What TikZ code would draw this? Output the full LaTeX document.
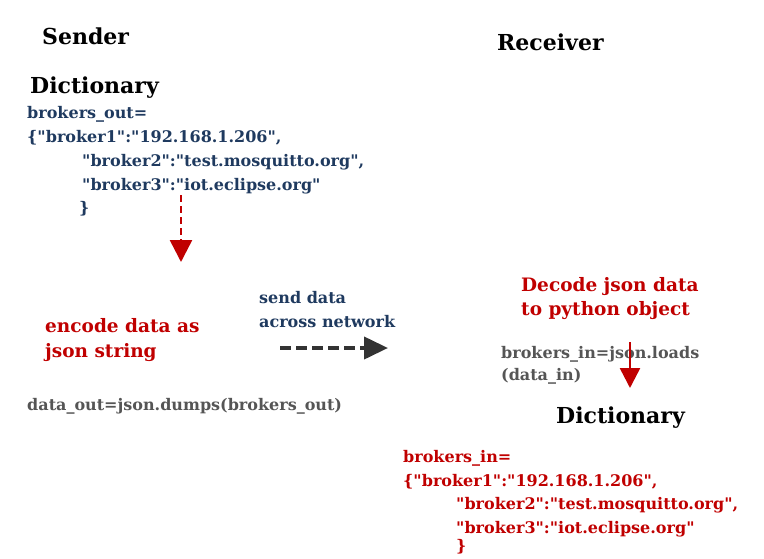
\documentclass[tikz,border=0pt]{standalone}
\usepackage{fontspec}
\setmainfont[Ligatures=TeXOff]{DejaVu Serif}
\usetikzlibrary{arrows.meta}
\definecolor{navy}{HTML}{1F3A5F}
\definecolor{deepred}{HTML}{C00000}
\definecolor{codegray}{HTML}{555555}
\begin{document}
\begin{tikzpicture}
[x=1pt, y=-1pt, font=\bfseries,
head/.style={anchor=west, inner sep=0pt, font=\bfseries\fontsize{22}{24}\selectfont},
code/.style={anchor=west, inner sep=0pt, font=\bfseries\fontsize{16}{18}\selectfont},
note/.style={anchor=west, inner sep=0pt, text=deepred, font=\bfseries\fontsize{18.5}{22}\selectfont}]

\useasboundingbox (0,0) rectangle (764,558);

% sender side
\node[head] (sender) at (42,36) {Sender};
\node[head] (dictout) at (30,88) {Dictionary};
\node[code, text=navy] (out0) at (27,114) {brokers\_out=};
\node[code, text=navy] (out1) at (27,138) {\{"broker1":"192.168.1.206",};
\node[code, text=navy] (out2) at (82,162) {"broker2":"test.mosquitto.org",};
\node[code, text=navy] (out3) at (82,186) {"broker3":"iot.eclipse.org"};
\node[code, text=navy] (out4) at (79,209) {\}};
\node[note] (enc1) at (45,326) {encode data as};
\node[note] (enc2) at (45,353) {json string};
\node[code, text=codegray] (dump) at (27,406) {data\_out=json.dumps(brokers\_out)};

% network
\node[code, text=navy] (send1) at (259,298) {send data};
\node[code, text=navy] (send2) at (259,322) {across network};

% receiver side
\node[head] (receiver) at (497,42) {Receiver};
\node[note] (dec1) at (521,287) {Decode json data};
\node[note] (dec2) at (521,311) {to python object};
\node[code, text=codegray] (load1) at (501,354) {brokers\_in=json.loads};
\node[code, text=codegray] (load2) at (501,376) {(data\_in)};
\node[head] (dictin) at (556,418) {Dictionary};
\node[code, text=deepred] (in0) at (403,458) {brokers\_in=};
\node[code, text=deepred] (in1) at (403,482) {\{"broker1":"192.168.1.206",};
\node[code, text=deepred] (in2) at (456,505) {"broker2":"test.mosquitto.org",};
\node[code, text=deepred] (in3) at (456,529) {"broker3":"iot.eclipse.org"};
\node[code, text=deepred] (in4) at (456,547) {\}};

% arrows
\coordinate (a1) at (181,195);
\coordinate (a2) at (181,262);
\coordinate (b1) at (280,348);
\coordinate (b2) at (388,348);
\coordinate (c1) at (630,342);
\coordinate (c2) at (630,388);
\draw[deepred, line width=2.5pt, dash pattern=on 7pt off 4pt, -{Triangle[length=22pt, width=22pt]}] (a1) -- (a2);
\draw[black!80, line width=4pt, dash pattern=on 11pt off 5pt, -{Triangle[length=24pt, width=22pt]}] (b1) -- (b2);
\draw[deepred, line width=2.5pt, -{Triangle[length=20pt, width=20pt]}] (c1) -- (c2);
\end{tikzpicture}
\end{document}
